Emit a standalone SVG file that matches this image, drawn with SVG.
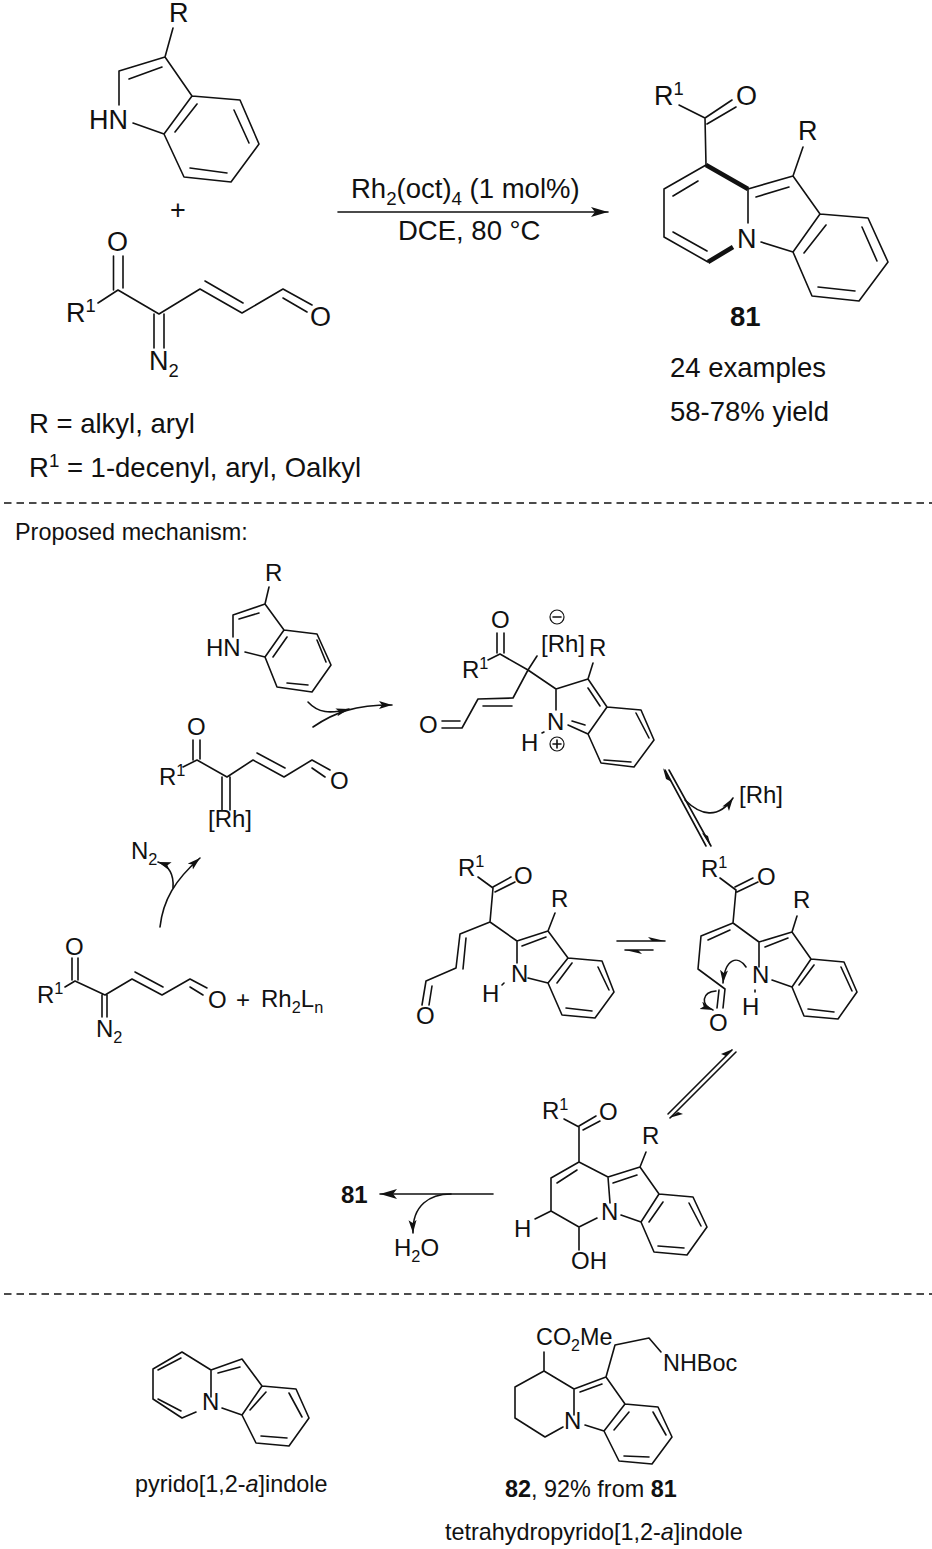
<svg xmlns="http://www.w3.org/2000/svg" width="932" height="1549" viewBox="0 0 932 1549">
<style>
text{font-family:"Liberation Sans",Arial,sans-serif;fill:#111}
.t{font-size:27.500px}.m{font-size:27px}.s{font-size:24px}.f{font-size:23.4px}
.b{font-weight:bold}.i{font-style:italic}
.sub{font-size:.68em;baseline-shift:-.38em}.sup{font-size:.68em;baseline-shift:.55em}
path{fill:none;stroke:#111;stroke-width:1.6;stroke-linejoin:round;stroke-linecap:round}
.w{stroke-width:4.6;stroke-linecap:butt}
.h{fill:#111;stroke:none}
.d{stroke-dasharray:7.5 5;stroke-width:1.3;stroke-linecap:butt}
circle{fill:none;stroke:#111;stroke-width:1.2}
</style>
<defs>
<marker id="a" markerUnits="userSpaceOnUse" markerWidth="20" markerHeight="12" refX="17" refY="5" orient="auto"><path class="h" d="M0,0L17,5L0,10L4,5Z"/></marker>
<marker id="c" markerUnits="userSpaceOnUse" markerWidth="16" markerHeight="10" refX="13" refY="4" orient="auto"><path class="h" d="M0,0L13,4L0,8L3,4Z"/></marker>
</defs>
<rect width="932" height="1549" fill="#fff"/>

<g id="indole-top">
<path d="M173,28L165,57L119,71V105M129,79L162,67M165,57L192,96L240,100L259,144L231,182L184,177L164,134L192,96M133,123L164,134M175,132L197,104M234,110L249,143M190,168L227,173"/>
<text class="m" x="169" y="22">R</text><text class="m" x="89" y="129">HN</text>
</g>
<text id="plus-top" class="m" x="170" y="219">+</text>
<g id="diazo-top">
<path d="M113.500,256V290M123,256V288M98,303L118,290L159,314L200,289L242,313L283,289L312,305M205,281L243,303M283,298L307,312M154,314V348M164,314V348"/>
<text class="m" x="107" y="251">O</text><text class="m" x="66" y="322">R<tspan class="sup">1</tspan></text><text class="m" x="310" y="326">O</text><text class="m" x="149" y="370">N<tspan class="sub">2</tspan></text>
</g>
<g id="r-legend">
<text class="t" x="29" y="433">R = alkyl, aryl</text>
<text class="t" x="29" y="477">R<tspan class="sup">1</tspan> = 1-decenyl, aryl, Oalkyl</text>
</g>
<g id="product-81">
<path d="M679,105L705,118L706,165L664,189V237L708,262M705,118L732,100M707,124L736,107M748,189L793,176L820,214L868,218L888,262L859,301L812,296L793,252L820,214M748,189V223M761,242L793,252M803,147L793,176M756,197L789,187M804,253L826,225M862,227L877,261M818,287L855,291M673,196L698,181M673,232L707,251"/>
<path class="w" d="M706,165L748,189M708,262L733,247"/>
<text class="m" x="654" y="105">R<tspan class="sup">1</tspan></text><text class="m" x="736" y="105">O</text><text class="m" x="798" y="140">R</text><text class="m" x="737" y="248">N</text>
<text class="t b" x="730" y="326">81</text>
<text class="t" x="670" y="377">24 examples</text>
<text class="t" x="670" y="421">58-78% yield</text>
</g>
<g id="conditions">
<text class="t" x="351" y="198">Rh<tspan class="sub">2</tspan>(oct)<tspan class="sub">4</tspan> (1 mol%)</text>
<text class="t" x="398" y="240">DCE, 80 °C</text>
</g>

<text id="mech-title" class="f" x="15" y="540">Proposed mechanism:</text>

<g id="mech-indole">
<path d="M269,587L265,604L233,615V637M239,619L259,613M265,604L284,630L317,634L331,665L312,692L277,687L265,657L284,630M245,652L265,657M273,657L287,637M317,640L326,662M287,683L308,685"/>
<text class="s" x="265" y="581">R</text><text class="s" x="206" y="656">HN</text>
</g>
<g id="mech-carbene">
<path d="M193,740V760M200,740V759M183,767L197,760L227,777L253,760L284,777L312,760L330,770M257,753L285,768M312,768L325,777M222,777V810M230,777V810"/>
<text class="s" x="187" y="735">O</text><text class="s" x="159" y="785">R<tspan class="sup">1</tspan></text><text class="s" x="330" y="789">O</text><text class="s" x="208" y="827">[Rh]</text>
</g>
<text id="mech-n2" class="s" x="131" y="859">N<tspan class="sub">2</tspan></text>
<g id="mech-diazo">
<path d="M72,958V980M78,958V980M65,987L75,981L105,995L132,979L162,995L190,979L207,988M135,972L163,987M190,987L203,995M102,995V1017M107,995V1017"/>
<text class="s" x="65" y="955">O</text><text class="s" x="37" y="1003">R<tspan class="sup">1</tspan></text><text class="s" x="208" y="1008">O</text><text class="s" x="96" y="1037">N<tspan class="sub">2</tspan></text>
</g>
<text id="mech-rh2ln" class="s" x="236" y="1008">+</text>
<text id="mech-rh2ln-2" class="s" x="261" y="1007">Rh<tspan class="sub">2</tspan>L<tspan class="sub">n</tspan></text>

<g id="int-1">
<path d="M497,633V653M504,633V653M488,660L500,654L528,670L537,656M528,670L556,689L588,679L593,663M528,670L513,698L478,699L462,728M483,706L512,706M442,721H460M442,728H462M556,689V710M568,725L588,734L607,707L641,710L654,740L634,767L601,763L588,734M572,721L585,725M588,679L607,707M588,688L600,706M636,713L649,738M604,760L631,762M542,733L544,732"/>
<text class="s" x="491" y="628">O</text><text class="s" x="462" y="678">R<tspan class="sup">1</tspan></text><text class="s" x="541" y="652">[Rh]</text><text class="s" x="589" y="656">R</text><text class="s" x="419" y="733">O</text><text class="s" x="547" y="730">N</text><text class="s" x="521" y="751">H</text>
<circle cx="557" cy="617" r="7"/><path d="M553,617H561"/><circle cx="557" cy="744" r="7"/><path d="M553,744H561M557,740V748"/>
</g>
<text id="rh-out" class="s" x="739" y="803">[Rh]</text>
<g id="int-2">
<path d="M478,877L493,888L490,922L460,934L456,968L426,981L422,1005M493,887L511,877M495,892L515,882M466,938L463,969M432,986L429,1005M490,922L517,941L548,931L555,913M522,946L546,937M517,941V963M548,931L568,958L602,961L614,992L595,1018L562,1015L548,983L568,958M528,978L548,983M557,983L572,963M598,967L609,990M566,1008L592,1011M502,985L504,983"/>
<text class="s" x="458" y="876">R<tspan class="sup">1</tspan></text><text class="s" x="514" y="884">O</text><text class="s" x="416" y="1024">O</text><text class="s" x="551" y="907">R</text><text class="s" x="511" y="982">N</text><text class="s" x="482" y="1002">H</text>
</g>
<g id="int-3">
<path d="M720,878L736,890L733,923L701,936L698,969L725,989L723,1008M735,887L753,878M737,892L758,882M708,940L730,930M719,990L717,1008M733,923L759,942L792,932L797,916M765,947L788,938M759,942V967M792,932L811,959L844,962L857,992L838,1019L804,1016L792,987L811,959M772,980L792,987M799,985L814,965M841,967L852,991M808,1009L834,1012M755,990V992"/>
<text class="s" x="701" y="877">R<tspan class="sup">1</tspan></text><text class="s" x="757" y="885">O</text><text class="s" x="709" y="1031">O</text><text class="s" x="793" y="908">R</text><text class="s" x="752" y="983">N</text><text class="s" x="742" y="1015">H</text>
</g>
<g id="int-4">
<path d="M564,1119L579,1127L579,1162L551,1178V1211L579,1227L597,1218M579,1126L596,1116M583,1130L600,1121M557,1183L577,1170M535,1219L551,1211M579,1227V1250M579,1162L608,1177L640,1167L646,1152M613,1183L637,1175M608,1177L610,1203M640,1167L659,1194L693,1197L707,1227L687,1255L654,1252L641,1222L659,1194M621,1215L641,1222M649,1222L663,1202M689,1203L701,1226M658,1246L684,1248"/>
<text class="s" x="542" y="1119">R<tspan class="sup">1</tspan></text><text class="s" x="599" y="1120">O</text><text class="s" x="642" y="1144">R</text><text class="s" x="601" y="1220">N</text><text class="s" x="514" y="1237">H</text><text class="s" x="571" y="1269">OH</text>
</g>
<text id="mech-81" class="s b" x="341" y="1203">81</text>
<text id="mech-h2o" class="s" x="394" y="1256">H<tspan class="sub">2</tspan>O</text>

<g id="pyridoindole">
<path d="M182,1352L153,1369V1399L182,1418L196,1412M182,1352L211,1370L242,1359L262,1386L296,1389L309,1418L289,1446L256,1443L242,1415L262,1386M222,1408L242,1415M211,1370V1397M158,1370L181,1358M158,1399L181,1411M218,1373L240,1367M250,1410L266,1392M289,1393L302,1417M261,1436L287,1438"/>
<text class="s" x="202" y="1410">N</text>
<text class="f" x="135" y="1492">pyrido[1,2-<tspan class="i">a</tspan>]indole</text>
</g>
<g id="compound-82">
<path d="M544,1352V1371L515,1387V1418L545,1437L563,1427M544,1371L574,1389L606,1377L615,1345L649,1338L661,1352M580,1392L602,1384M574,1389V1415M606,1377L625,1404L658,1407L672,1437L652,1464L619,1461L604,1431L625,1404M585,1425L604,1431M614,1430L629,1412M653,1412L666,1435M624,1456L649,1457"/>
<text class="f" x="536" y="1345">CO<tspan class="sub">2</tspan>Me</text><text class="f" x="663" y="1371">NHBoc</text><text class="s" x="564" y="1429">N</text>
<text class="f" x="505" y="1497"><tspan class="b">82</tspan>, 92% from <tspan class="b">81</tspan></text>
<text class="f" x="445" y="1540">tetrahydropyrido[1,2-<tspan class="i">a</tspan>]indole</text>
</g>

<g id="connectors">
<path class="d" d="M4,503H932M4,1294H932"/>
<path d="M338,212H608" marker-end="url(#a)"/>
<path d="M308,702C318,713 330,714 349,709" marker-end="url(#c)"/>
<path d="M313,727C335,712 355,705 392,705" marker-end="url(#c)"/>
<path d="M160,927C163,900 175,880 200,858" marker-end="url(#c)"/>
<path d="M173,888C174,875 170,866 158,862" marker-end="url(#c)"/>
<path d="M665,770L706,846M669,770L711,846"/>
<path class="h" d="M663,768L672,782L666,779Z"/><path class="h" d="M711,847L702,833L708,836Z"/>
<path d="M685,800C700,815 718,820 733,798" marker-end="url(#c)"/>
<path d="M617,941H665M625,950H653"/>
<path class="h" d="M665,941L648,937L652,941Z"/><path class="h" d="M625,950L642,954L638,950Z"/>
<path d="M732,1050L668,1114M736,1052L670,1118"/>
<path class="h" d="M733,1049L721,1054L726,1056Z"/><path class="h" d="M669,1118L683,1114L678,1112Z"/>
<path d="M746,967C738,955 725,958 723,983" marker-end="url(#c)"/>
<path d="M716,991C702,992 700,1005 713,1010" marker-end="url(#c)"/>
<path d="M493,1194H380" marker-end="url(#a)"/>
<path d="M451,1194C430,1194 412,1205 413,1233" marker-end="url(#c)"/>
</g>
</svg>
